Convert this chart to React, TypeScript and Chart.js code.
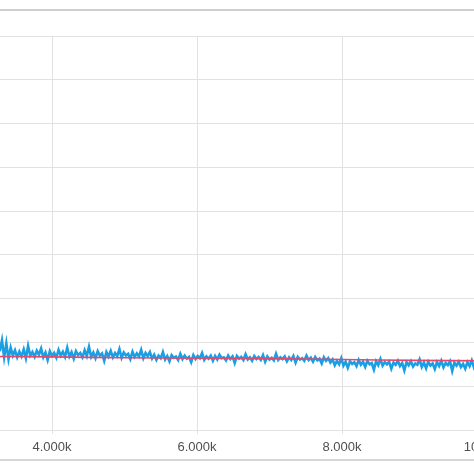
import React, { useEffect, useRef } from "react";
import { Chart, registerables } from "chart.js";

Chart.register(...registerables);

// x sampling of the raw series (steps)
const RAW_START = 3280;
const RAW_STEP = 30;

// raw (noisy) values
const rawValues: number[] = [
  1.80, 2.05, 1.66, 1.98, 1.62, 1.88, 1.70, 1.82, 1.66, 1.79, 1.68, 1.84, 1.64, 1.92, 1.70,
  1.78, 1.67, 1.81, 1.72, 1.86, 1.66, 1.77, 1.60, 1.80, 1.69, 1.76, 1.65, 1.83, 1.70, 1.79,
  1.67, 1.88, 1.68, 1.78, 1.63, 1.80, 1.71, 1.76, 1.66, 1.82, 1.69, 1.90, 1.67, 1.77, 1.64,
  1.80, 1.70, 1.75, 1.58, 1.78, 1.68, 1.81, 1.66, 1.76, 1.69, 1.85, 1.65, 1.77, 1.70, 1.74,
  1.62, 1.79, 1.67, 1.75, 1.68, 1.83, 1.64, 1.76, 1.69, 1.78,
  1.63, 1.72, 1.60, 1.70, 1.64, 1.78, 1.61, 1.69, 1.57, 1.71, 1.65, 1.68, 1.60, 1.74, 1.62,
  1.70, 1.63, 1.67, 1.55, 1.71, 1.62, 1.69, 1.64, 1.76, 1.60, 1.68, 1.63, 1.70, 1.58, 1.69,
  1.61, 1.72, 1.64, 1.66, 1.59, 1.70, 1.62, 1.68, 1.53, 1.69, 1.63, 1.67, 1.60, 1.73, 1.61,
  1.66, 1.58, 1.69, 1.62, 1.67, 1.60, 1.71, 1.56, 1.68, 1.61, 1.65, 1.59, 1.74, 1.60, 1.66,
  1.62, 1.68, 1.57, 1.66, 1.60, 1.69, 1.54, 1.67, 1.61, 1.64, 1.58, 1.70, 1.60, 1.65, 1.56,
  1.67, 1.59, 1.63, 1.52, 1.66, 1.58, 1.64,
  1.54, 1.61, 1.48, 1.58, 1.50, 1.64, 1.47, 1.56, 1.42, 1.57, 1.51, 1.55, 1.46, 1.60, 1.49,
  1.56, 1.44, 1.58, 1.50, 1.53, 1.38, 1.57, 1.48, 1.62, 1.47, 1.55, 1.50, 1.56, 1.40, 1.54,
  1.49, 1.58, 1.46, 1.53, 1.36, 1.55, 1.48, 1.57, 1.45, 1.52, 1.49, 1.61, 1.44, 1.54, 1.41,
  1.56, 1.47, 1.52, 1.39, 1.55, 1.46, 1.58, 1.43, 1.53, 1.48, 1.57, 1.35, 1.54, 1.47, 1.56,
  1.44, 1.51, 1.40, 1.55, 1.46, 1.59, 1.43, 1.52, 1.37, 1.54, 1.47, 1.53, 1.42,
];

// smoothed series
const smoothSteps: number[] = [3280, 4000, 5000, 6000, 7000, 8000, 9000, 10000];
const smoothValues: number[] = [1.68, 1.67, 1.65, 1.64, 1.63, 1.61, 1.59, 1.58];

// axis ranges / ticks
const X_MIN = 3200;
const X_MAX = 10400;
const X_TICKS: number[] = [4000, 6000, 8000, 10000];
const Y_MIN = 0;
const Y_MAX = 9;
const Y_TICK_STEP = 1;

const CANVAS_LEFT = -6;
const CANVAS_W = 522;
const CANVAS_H = 460;

export default function App() {
  const ref = useRef<HTMLCanvasElement | null>(null);

  useEffect(() => {
    if (!ref.current) return;
    const rawData = rawValues.map((v, i) => ({ x: RAW_START + i * RAW_STEP, y: v }));
    const smoothData = smoothSteps.map((s, i) => ({ x: s, y: smoothValues[i] }));
    const chart = new Chart(ref.current, {
      type: "line",
      data: {
        datasets: [
          {
            label: "smoothed",
            data: smoothData,
            borderColor: "#e2496f",
            borderWidth: 1.6,
            pointRadius: 0,
            tension: 0.3,
            order: 0,
          },
          {
            label: "raw",
            data: rawData,
            borderColor: "#1b9fe4",
            borderWidth: 2.6,
            pointRadius: 0,
            tension: 0,
            order: 1,
          },
        ],
      },
      options: {
        animation: false,
        responsive: false,
        events: [],
        layout: { padding: { top: 36, left: 0, right: 0, bottom: 0 } },
        plugins: { legend: { display: false }, tooltip: { enabled: false } },
        scales: {
          x: {
            type: "linear",
            min: X_MIN,
            max: X_MAX,
            afterBuildTicks: (s: any) => {
              s.ticks = X_TICKS.map((v) => ({ value: v }));
            },
            afterFit: (s: any) => {
              s.height = CANVAS_H - 430;
              s.paddingLeft = 0;
              s.paddingRight = 0;
            },
            grid: { color: "#e2e2e2", lineWidth: 1, tickLength: 4, drawTicks: true },
            border: { color: "#e2e2e2" },
            ticks: {
              maxRotation: 0,
              autoSkip: false,
              padding: 6,
              color: "#505050",
              font: { family: "Liberation Sans, Arial, sans-serif", size: 13 },
              callback: (v: any) => (Number(v) / 1000).toFixed(3) + "k",
            },
          },
          y: {
            min: Y_MIN,
            max: Y_MAX,
            afterFit: (s: any) => {
              s.width = 0;
            },
            grid: { color: "#e2e2e2", lineWidth: 1, drawTicks: false },
            border: { display: false },
            ticks: { stepSize: Y_TICK_STEP, display: false },
          },
        },
      },
    });
    return () => chart.destroy();
  }, []);

  return (
    <div
      style={{
        position: "fixed",
        left: 0,
        top: 0,
        width: 474,
        height: 474,
        overflow: "hidden",
        background: "#fff",
      }}
    >
      <div style={{ position: "absolute", left: 0, top: 9, width: 474, height: 2, background: "#cfcfcf" }} />
      <div style={{ position: "absolute", left: 0, top: 459, width: 474, height: 2, background: "#d6d6d6" }} />
      <div style={{ position: "absolute", left: CANVAS_LEFT, top: 0, width: CANVAS_W, height: CANVAS_H }}>
        <canvas ref={ref} width={CANVAS_W} height={CANVAS_H} />
      </div>
    </div>
  );
}
